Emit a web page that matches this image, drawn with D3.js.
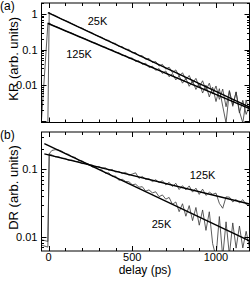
<!DOCTYPE html>
<html>
<head>
<meta charset="utf-8">
<script src="https://cdn.jsdelivr.net/npm/d3@7"></script>
<style>
  body { margin: 0; background: #fff; }
  text { font-family: "Liberation Sans", Arial, sans-serif; fill: #000; }
</style>
</head>
<body>
<div id="chart"></div>
<script>
// delay axis (ps) shared by all measured traces
const delay = [-42, -4, 4, 20, 40, 60, 80, 100, 120, 140, 160, 180, 200, 220, 240, 260, 280, 300,
  320, 340, 360, 380, 400, 420, 440, 460, 480, 500, 520, 540, 560, 580, 600, 620, 640, 660, 680,
  700, 720, 740, 760, 780, 800, 820, 840, 860, 880, 900, 920, 940, 960, 980, 1000, 1020, 1040,
  1060, 1080, 1100, 1120, 1140, 1160, 1180, 1200];

// (a) Kerr rotation
const kr25 = [0.0009, 0.0009, 1.1, 0.982, 0.908, 0.802, 0.708, 0.655, 0.605, 0.535, 0.483, 0.427,
  0.404, 0.356, 0.322, 0.298, 0.257, 0.238, 0.220, 0.190, 0.182, 0.155, 0.150, 0.124, 0.122, 0.103,
  0.102, 0.0824, 0.0836, 0.0673, 0.0682, 0.0537, 0.0570, 0.0439, 0.0466, 0.0350, 0.0389, 0.0286,
  0.0325, 0.0228, 0.0272, 0.0182, 0.0227, 0.0145, 0.0190, 0.0116, 0.0158, 0.00904, 0.01355,
  0.00738, 0.01159, 0.00575, 0.00968, 0.00409, 0.00791, 0.00254, 0.00724, 0.00261, 0.00664,
  0.00169, 0.00384, 0.00155, 0.00279];
const kr125 = [0.0011, 0.52, 0.56, 0.490, 0.448, 0.418, 0.373, 0.333, 0.310, 0.290, 0.259, 0.231,
  0.216, 0.201, 0.180, 0.160, 0.153, 0.137, 0.122, 0.117, 0.102, 0.0995, 0.0847, 0.0828, 0.0690,
  0.0690, 0.0575, 0.0589, 0.0468, 0.0491, 0.0390, 0.0419, 0.0318, 0.0348, 0.0265, 0.0297, 0.0216,
  0.0254, 0.0175, 0.0216, 0.0143, 0.0185, 0.0116, 0.0157, 0.00948, 0.0134, 0.00773, 0.0117,
  0.00614, 0.0102, 0.00478, 0.00891, 0.00355, 0.00813, 0.00264, 0.0009, 0.00695, 0.00283,
  0.00649, 0.00188, 0.0009, 0.00393, 0.00179];

// (b) differential reflectivity
const dr25 = [0.009, 0.0085, 0.17, 0.19, 0.195, 0.193, 0.185, 0.171, 0.166, 0.153, 0.150, 0.135,
  0.133, 0.124, 0.120, 0.108, 0.109, 0.0993, 0.0975, 0.0871, 0.0885, 0.0782, 0.0793, 0.0686,
  0.0711, 0.0659, 0.0653, 0.0590, 0.0600, 0.0542, 0.0551, 0.0475, 0.0494, 0.0447, 0.0463, 0.0392,
  0.0416, 0.0360, 0.0382, 0.0301, 0.0327, 0.0235, 0.0308, 0.0201, 0.0289, 0.0173, 0.0271, 0.0148,
  0.0249, 0.0124, 0.0234, 0.00787, 0.005, 0.0199, 0.005, 0.0166, 0.00535, 0.0160, 0.00676,
  0.0144, 0.00681, 0.0120, 0.00686];
const dr125 = [0.0075, 0.007, 0.17, 0.163, 0.153, 0.154, 0.146, 0.145, 0.135, 0.137, 0.131, 0.130,
  0.121, 0.123, 0.117, 0.116, 0.108, 0.110, 0.104, 0.105, 0.0964, 0.0993, 0.0912, 0.0929, 0.0863,
  0.0899, 0.0817, 0.0849, 0.0885, 0.0733, 0.0782, 0.0710, 0.0723, 0.0656, 0.0700, 0.0634, 0.0676,
  0.0586, 0.0640, 0.0555, 0.0619, 0.0501, 0.0571, 0.0495, 0.0566, 0.0458, 0.0524, 0.0424, 0.0507,
  0.0409, 0.0457, 0.0425, 0.0443, 0.0312, 0.0264, 0.0389, 0.0386, 0.0327, 0.0357, 0.0317, 0.0354,
  0.0300, 0.0312];

// single exponential fits, end points only
const fitKr25 = { t: [-4, 1200], v: [1.1, 0.00249] };
const fitKr125 = { t: [-6, 1200], v: [0.55, 0.00226] };
const fitDr25 = { t: [-25, 1200], v: [0.24, 0.00863] };
const fitDr125 = { t: [-25, 1200], v: [0.169, 0.0305] };

const xTicks = [0, 100, 200, 300, 400, 500, 600, 700, 800, 900, 1000, 1100, 1200];
const xTickLabels = [0, 500, 1000];
const krTickLabels = [1, 0.1, 0.01];
const drTickLabels = [0.1, 0.01];

const W = 250, H = 283;
const left = 41.5, right = 249.5;

const svg = d3.select("#chart").append("svg")
  .attr("width", W)
  .attr("height", H);

const x = d3.scaleLinear().domain([-42, 1200]).range([left, right]);

function drawPanel(id, top, bottom, yDomain, traces, fits, tickLabels, notes, title, tag, showX) {
  const y = d3.scaleLog().domain(yDomain).range([bottom, top]);
  const g = svg.append("g");

  g.append("clipPath").attr("id", id)
    .append("rect")
    .attr("x", left).attr("y", top)
    .attr("width", right - left).attr("height", bottom - top);

  const line = d3.line()
    .x(d => x(d[0]))
    .y(d => y(d[1]));

  const plot = g.append("g").attr("clip-path", `url(#${id})`);

  // measured traces
  traces.forEach(vals => {
    plot.append("path")
      .attr("d", line(delay.map((t, i) => [t, vals[i]])))
      .attr("fill", "none")
      .attr("stroke", "#333")
      .attr("stroke-width", 0.8);
  });

  // fits
  fits.forEach(f => {
    plot.append("path")
      .attr("d", line(f.t.map((t, i) => [t, f.v[i]])))
      .attr("fill", "none")
      .attr("stroke", "#000")
      .attr("stroke-width", 1.4);
  });

  // frame
  g.append("rect")
    .attr("x", left).attr("y", top)
    .attr("width", right - left).attr("height", bottom - top)
    .attr("fill", "none")
    .attr("stroke", "#000")
    .attr("stroke-width", 1);

  // x ticks (inward, top and bottom)
  xTicks.forEach(t => {
    const len = xTickLabels.includes(t) ? 5 : 3;
    const px = Math.round(x(t)) + 0.5;
    g.append("line").attr("x1", px).attr("x2", px)
      .attr("y1", bottom).attr("y2", bottom - len)
      .attr("stroke", "#000");
    g.append("line").attr("x1", px).attr("x2", px)
      .attr("y1", top).attr("y2", top + len)
      .attr("stroke", "#000");
  });

  // y ticks (inward, left and right)
  y.ticks().forEach(v => {
    const lg = Math.log10(v);
    const major = Math.abs(lg - Math.round(lg)) < 1e-6;
    const len = major ? 5 : 2.5;
    const py = Math.round(y(v)) + 0.5;
    g.append("line").attr("x1", left).attr("x2", left + len)
      .attr("y1", py).attr("y2", py).attr("stroke", "#000");
    g.append("line").attr("x1", right).attr("x2", right - len)
      .attr("y1", py).attr("y2", py).attr("stroke", "#000");
  });

  g.selectAll(".ylab")
    .data(tickLabels)
    .enter()
    .append("text")
    .attr("x", 37.5)
    .attr("y", d => y(d) + 4)
    .style("text-anchor", "end")
    .style("font-size", "11px")
    .text(d => d);

  if (showX) {
    g.selectAll(".xlab")
      .data(xTickLabels)
      .enter()
      .append("text")
      .attr("x", d => x(d))
      .attr("y", bottom + 10)
      .style("text-anchor", "middle")
      .style("font-size", "11px")
      .text(d => d);
  }

  // temperature labels
  notes.forEach(n => {
    g.append("text")
      .attr("x", n.x).attr("y", n.y)
      .style("text-anchor", "middle")
      .style("font-size", "11px")
      .text(n.text);
  });

  // y axis title
  g.append("text")
    .attr("transform", `translate(17.5,${(top + bottom) / 2 - 4}) rotate(-90)`)
    .style("text-anchor", "middle")
    .style("font-size", "13px")
    .text(title);

  // panel tag
  g.append("text")
    .attr("x", 0).attr("y", top + 7)
    .style("font-size", "12px")
    .text(tag);
}

drawPanel("clipA", 3, 122.5, [0.00092, 2.03], [kr25, kr125], [fitKr25, fitKr125], krTickLabels,
  [{ text: "25K", x: 97.5, y: 25 }, { text: "125K", x: 79, y: 57.5 }],
  "KR (arb. units)", "(a)", false);

drawPanel("clipB", 132, 251, [0.00613, 0.357], [dr25, dr125], [fitDr25, fitDr125], drTickLabels,
  [{ text: "125K", x: 202.5, y: 178.5 }, { text: "25K", x: 161.5, y: 228 }],
  "DR (arb. units)", "(b)", true);

// x axis title
svg.append("text")
  .attr("x", 145)
  .attr("y", 274)
  .style("text-anchor", "middle")
  .style("font-size", "12px")
  .text("delay (ps)");
</script>
</body>
</html>
